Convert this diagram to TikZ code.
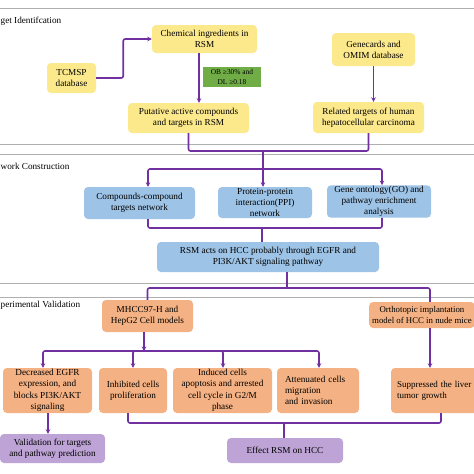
\documentclass[tikz,border=0pt]{standalone}
\usepackage{fontspec}
\setmainfont{Liberation Serif}
\usetikzlibrary{arrows.meta}
\definecolor{ycol}{RGB}{252,233,140}
\definecolor{gcol}{RGB}{112,173,71}
\definecolor{bcol}{RGB}{157,195,230}
\definecolor{ocol}{RGB}{244,177,131}
\definecolor{pcol}{RGB}{190,164,214}
\definecolor{lcol}{RGB}{112,48,160}
\definecolor{scol}{RGB}{175,175,175}
\begin{document}
\begin{tikzpicture}[x=1pt,y=-1pt,
  box/.style={rounded corners=4pt, inner sep=1pt, align=center, font=\fontsize{9.2}{11}\selectfont},
  ybx/.style={box, fill=ycol},
  bbx/.style={box, fill=bcol},
  obx/.style={box, fill=ocol},
  pbx/.style={box, fill=pcol},
  gbx/.style={inner sep=1pt, align=center, fill=gcol, font=\fontsize{7.4}{10}\selectfont},
  line/.style={draw=lcol, line width=1.6pt, rounded corners=2pt},
  arr/.style={line, -{Stealth[length=4.5pt,width=4.5pt]}},
  sect/.style={draw=scol, line width=0.8pt},
  ttl/.style={inner sep=0pt, anchor=base west, font=\fontsize{9.2}{11}\selectfont}
]
\useasboundingbox (0,0) rectangle (474,474);
\clip (0,0) rectangle (474,474);
\fill[white] (0,0) rectangle (474,474);

% sections
\draw[sect] (-10,8) rectangle (476,144);
\draw[sect] (-10,154) rectangle (476,283);
\draw[sect] (-10,297) rectangle (480,490);
\node[ttl] (t1) at (0.5,23) {get Identifcation};
\node[ttl] (t2) at (0.5,169) {work Construction};
\node[ttl] (t3) at (0.5,307) {perimental Validation};

% section 1
\node[ybx, minimum width=105pt, minimum height=28pt] (chem) at (204.5,39) {Chemical ingredients in\\RSM};
\node[ybx, minimum width=49pt, minimum height=30pt] (tcmsp) at (71.5,78) {TCMSP\\database};
\node[gbx, minimum width=58pt, minimum height=20pt] (ob) at (232,77) {OB ≥30\% and\\DL ≥0.18};
\node[ybx, minimum width=121pt, minimum height=30pt] (put) at (188.5,118) {Putative active compounds\\and targets in RSM};
\node[ybx, minimum width=83pt, minimum height=33pt] (gene) at (373.5,49.5) {Genecards and\\OMIM database};
\node[ybx, minimum width=111pt, minimum height=31pt] (rel) at (368.5,117.5) {Related targets of human\\hepatocellular carcinoma};

\draw[arr] (tcmsp.east) -- ++(27,0) |- (chem.west);
\draw[arr] ([xshift=-5.5pt]chem.south) -- ([xshift=-5.5pt]chem.south |- put.north);
\draw[arr] (gene.south) -- (gene.south |- rel.north);

% section 2
\node[bbx, minimum width=111pt, minimum height=32pt] (ccn) at (139.5,203) {Compounds-compound\\targets network};
\node[bbx, minimum width=94pt, minimum height=31pt] (ppi) at (265,202.5) {Protein-protein\\interaction(PPI)\\network};
\node[bbx, minimum width=104pt, minimum height=31pt] (go) at (379,201.5) {Gene ontology(GO) and\\pathway enrichment\\analysis};
\node[bbx, minimum width=222pt, minimum height=30pt] (rsm) at (268,257) {RSM acts on HCC probably through EGFR and\\PI3K/AKT signaling pathway};

\coordinate (j1) at (263,151);
\coordinate (j2) at (263,169);
\draw[line] (put.south) |- (j1) -| (rel.south);
\draw[line] (j1) -- (j2);
\draw[arr] (j2) -| ([xshift=8.5pt]ccn.north);
\draw[arr] (j2) -- (j2 |- ppi.north);
\draw[arr] (j2) -| ([xshift=3pt]go.north);

\coordinate (j3) at (262,228);
\draw[line] ([xshift=8.5pt]ccn.south) |- (j3) -| ([xshift=3pt]go.south);
\draw[line] (j3) -- (j3 |- rsm.north);

% section 3
\node[obx, minimum width=91pt, minimum height=32pt] (mhcc) at (147.5,316) {MHCC97-H and\\HepG2 Cell models};
\node[obx, anchor=west, minimum height=26pt, inner xsep=3pt, font=\fontsize{8.8}{10.5}\selectfont] (orth) at (369,315) {Orthotopic implantation\\model of HCC in nude mice};
\node[obx, minimum width=89pt, minimum height=45pt, font=\fontsize{9.2}{11.5}\selectfont] (dec) at (47.5,390.5) {Decreased EGFR\\expression, and\\blocks PI3K/AKT\\signaling};
\node[obx, minimum width=68pt, minimum height=45pt] (inh) at (133,390.5) {Inhibited cells\\proliferation};
\node[obx, minimum width=99pt, minimum height=45pt, font=\fontsize{9.2}{11.5}\selectfont] (ind) at (222.5,390.5) {Induced cells\\apoptosis and arrested\\cell cycle in G2/M\\phase};
\node[obx, minimum height=45pt, inner xsep=8pt, text width=66pt, align=left] (att) at (318,390.5) {Attenuated cells\\migration\\and invasion};
\node[obx, minimum height=45pt, inner xsep=6pt, text width=97pt, align=left, font=\fontsize{9}{11}\selectfont] (supp) at (445.5,390.5) {Suppressed the liver\\tumor growth};
\node[pbx, minimum width=105pt, minimum height=29pt] (val) at (52.5,448.5) {Validation for targets\\and pathway prediction};
\node[pbx, minimum width=116pt, minimum height=25pt] (eff) at (285,450.5) {Effect RSM on HCC};

\coordinate (j4) at (287,288);
\coordinate (oj) at (430,315);
\draw[line] ([xshift=19pt]rsm.south) -- (j4);
\draw[line] (mhcc.north) |- (j4) -| (oj |- orth.north);

\coordinate (j5) at (144,351);
\draw[arr] ([xshift=-3.5pt]mhcc.south) -- (j5);
\draw[arr] (j5) -| ([xshift=-4.5pt]dec.north);
\draw[arr] (j5) -| (inh.north);
\draw[arr] (j5) -| ([xshift=0.5pt]ind.north);
\draw[arr] (j5) -| ([xshift=1pt]att.north);
\draw[arr] (oj |- orth.south) -- (oj |- supp.north);
\draw[arr] ([xshift=0.5pt]dec.south) -- ([xshift=0.5pt]dec.south |- val.north);

\coordinate (j6) at (284,423);
\draw[line] ([xshift=-5pt]inh.south) |- (j6) -| ([xshift=-4.5pt]supp.south);
\draw[line] (j6) -- (j6 |- eff.north);
\end{tikzpicture}
\end{document}
